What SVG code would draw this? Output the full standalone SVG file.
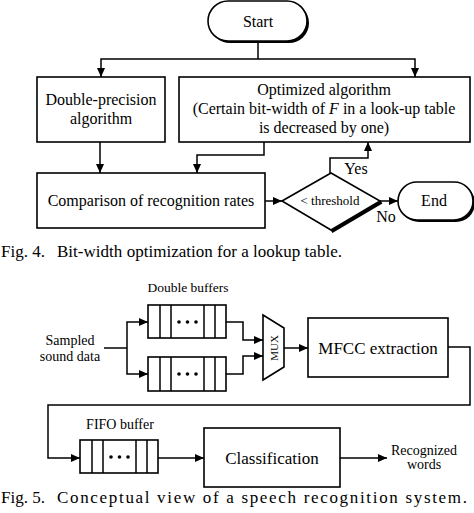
<svg xmlns="http://www.w3.org/2000/svg" width="474" height="513" viewBox="0 0 474 513">
<style>
text{font-family:"Liberation Serif","Times New Roman",serif;fill:#000}
.b{fill:#fff;stroke:#000;stroke-width:1.6}
.c{fill:none;stroke:#000;stroke-width:1.5}
.l16{font-size:16px;text-anchor:middle}
.l17{font-size:17px;text-anchor:middle}
.l14{font-size:14px;text-anchor:middle}
.cap{font-size:17px}
.sh{fill:none;stroke:#000;stroke-width:3.5}
</style>
<defs>
<marker id="a" markerUnits="userSpaceOnUse" markerWidth="10" markerHeight="10" refX="9" refY="4" orient="auto">
<path d="M0,0 L9,4 L0,8 z" fill="#000"/>
</marker>
</defs>
<rect width="474" height="513" fill="#fff"/>

<g id="connectors">
<path class="c" d="M258,41 V59"/>
<path class="c" d="M258,59 H101 V77" marker-end="url(#a)"/>
<path class="c" d="M258,59 H415 V77" marker-end="url(#a)"/>
<path class="c" d="M100,142 V173" marker-end="url(#a)"/>
<path class="c" d="M264,142 V155 H197 V173" marker-end="url(#a)"/>
<path class="c" d="M265,201 H282" marker-end="url(#a)"/>
<path class="c" d="M330,173 V158 H368 V142" marker-end="url(#a)"/>
<path class="c" d="M380,201 H398" marker-end="url(#a)"/>
<path class="c" d="M104,348 H127"/>
<path class="c" d="M127,348 V322 H148" marker-end="url(#a)"/>
<path class="c" d="M127,348 V374 H148" marker-end="url(#a)"/>
<path class="c" d="M226,322 H243 V340 H263" marker-end="url(#a)"/>
<path class="c" d="M226,374 H243 V356 H263" marker-end="url(#a)"/>
<path class="c" d="M283,348 H308" marker-end="url(#a)"/>
<path class="c" d="M448,347 H470 V405 H48 V458 H80" marker-end="url(#a)"/>
<path class="c" d="M158,458 H204" marker-end="url(#a)"/>
<path class="c" d="M340,458 H387" marker-end="url(#a)"/>
</g>

<g id="start">
<rect x="210" y="3" width="99" height="40" rx="20" fill="#000"/>
<rect class="b" x="208" y="1" width="99" height="40" rx="20"/>
<text class="l16" x="258" y="27">Start</text>
</g>

<g id="double-precision">
<rect class="b" x="37" y="77" width="128" height="65"/>
<text class="l16" x="101" y="105">Double-precision</text>
<text class="l16" x="101" y="124">algorithm</text>
</g>

<g id="optimized">
<rect class="b" x="179" y="77" width="291" height="65"/>
<text class="l16" x="324" y="95">Optimized algorithm</text>
<text class="l16" x="324" y="114">(Certain bit-width of <tspan font-style="italic">F</tspan> in a look-up table</text>
<text class="l16" x="324" y="133">is decreased by one)</text>
</g>

<g id="comparison">
<rect class="b" x="37" y="173" width="228" height="55"/>
<text class="l16" x="151" y="206">Comparison of recognition rates</text>
</g>

<g id="threshold">
<path class="sh" d="M381.5,202 L331.5,231.5"/>
<polygon class="b" points="282,201 331,173 380,201 331,230"/>
<text x="330" y="205" font-size="13" text-anchor="middle">&lt; threshold</text>
<text class="l16" x="356" y="174">Yes</text>
<text class="l16" x="386" y="222">No</text>
</g>

<g id="end">
<rect x="400" y="184" width="75" height="38" rx="19" fill="#000"/>
<rect class="b" x="398" y="182" width="75" height="38" rx="19"/>
<text class="l16" x="434" y="206">End</text>
</g>

<text class="cap" y="257"><tspan x="1">Fig. 4.</tspan><tspan x="57" textLength="285" lengthAdjust="spacing">Bit-width optimization for a lookup table.</tspan></text>

<g id="sampled">
<text class="l14" x="70" y="345">Sampled</text>
<text class="l14" x="70" y="361">sound data</text>
</g>

<g id="double-buffers">
<text x="188" y="292" font-size="13.5" text-anchor="middle">Double buffers</text>
<rect class="b" x="148" y="305" width="78" height="33"/>
<path class="c" d="M160,305 V338 M171,305 V338 M204,305 V338 M215,305 V338"/>
<circle cx="179" cy="322" r="1.8"/><circle cx="187.5" cy="322" r="1.8"/><circle cx="196" cy="322" r="1.8"/>
<rect class="b" x="148" y="357" width="78" height="34"/>
<path class="c" d="M160,357 V391 M171,357 V391 M204,357 V391 M215,357 V391"/>
<circle cx="179" cy="374" r="1.8"/><circle cx="187.5" cy="374" r="1.8"/><circle cx="196" cy="374" r="1.8"/>
</g>

<g id="mux">
<polygon class="b" points="263,315 284,328 284,367 263,380"/>
<text x="0" y="0" font-size="11" text-anchor="middle" transform="translate(278,348) rotate(-90)">MUX</text>
</g>

<g id="mfcc">
<rect class="b" x="308" y="318" width="140" height="59"/>
<text class="l17" x="378" y="354">MFCC extraction</text>
</g>

<g id="fifo">
<text class="l14" x="120" y="429">FIFO buffer</text>
<rect class="b" x="80" y="440" width="78" height="33"/>
<path class="c" d="M92,440 V473 M103,440 V473 M136,440 V473 M147,440 V473"/>
<circle cx="111" cy="457" r="1.8"/><circle cx="119.5" cy="457" r="1.8"/><circle cx="128" cy="457" r="1.8"/>
</g>

<g id="classification">
<rect class="b" x="204" y="428" width="136" height="59"/>
<text class="l17" x="272" y="464">Classification</text>
</g>

<g id="recognized">
<text class="l14" x="424" y="455">Recognized</text>
<text class="l14" x="424" y="469">words</text>
</g>

<text class="cap" y="503"><tspan x="1">Fig. 5.</tspan><tspan x="57" textLength="410" lengthAdjust="spacing">Conceptual view of a speech recognition system.</tspan></text>
</svg>
